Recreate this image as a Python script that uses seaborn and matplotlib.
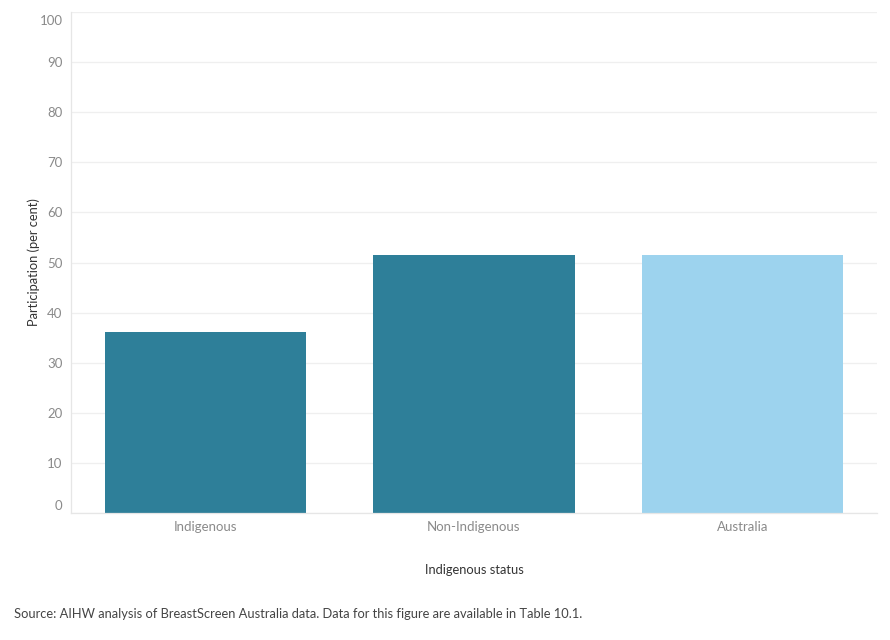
import numpy as np
import pandas as pd
import matplotlib
matplotlib.use("Agg")
from matplotlib import pyplot as plt
from matplotlib import transforms
import seaborn as sns

categories = ["Indigenous", "Non-Indigenous", "Australia"]
participation = [36.2, 51.4, 51.4]
bar_colours = ["#2e7f99", "#2e7f99", "#9dd3ee"]
y_ticks = [0, 10, 20, 30, 40, 50, 60, 70, 80, 90, 100]

sns.set_theme(style="white")
plt.rcParams["font.family"] = ["Lato", "DejaVu Sans"]

df = pd.DataFrame({"status": categories, "value": participation})

fig = plt.figure(figsize=(8.9, 6.4), dpi=100)
ax = fig.add_axes([71 / 890, 1 - 513 / 640, (877 - 71) / 890, (513 - 12) / 640])

sns.barplot(data=df, x="status", y="value", hue="status", palette=bar_colours,
            width=0.75, saturation=1, legend=False, linewidth=0, ax=ax)

ax.set_ylim(0, 100)
ax.set_xlim(-0.5, 2.5)
ax.set_yticks(y_ticks)
ax.set_yticklabels([str(t) for t in y_ticks])
ax.yaxis.grid(True, color="#efefef", linewidth=0.9)
ax.set_axisbelow(True)

for side in ["top", "right"]:
    ax.spines[side].set_visible(False)
for side in ["left", "bottom"]:
    ax.spines[side].set_color("#e6e6e6")
    ax.spines[side].set_linewidth(0.9)

ax.tick_params(axis="y", length=5, color="#e6e6e6", labelsize=9.5,
               labelcolor="#8a8a8a", pad=1)
ax.tick_params(axis="x", length=0, labelsize=9.5, labelcolor="#8a8a8a", pad=6)

# Tableau-style nudge of the end labels inside the axis
labels = ax.get_yticklabels()
labels[0].set_transform(labels[0].get_transform() +
                        transforms.ScaledTranslation(0, 8 / 100, fig.dpi_scale_trans))
labels[-1].set_transform(labels[-1].get_transform() +
                         transforms.ScaledTranslation(0, -8 / 100, fig.dpi_scale_trans))

ax.set_ylabel("Participation (per cent)", fontsize=9.3, color="#333333", labelpad=0)
ax.set_xlabel("Indigenous status", fontsize=9.3, color="#333333", labelpad=22)

fig.text(14 / 890, 1 - 614 / 640,
         "Source: AIHW analysis of BreastScreen Australia data. Data for this figure are available in Table 10.1.",
         fontsize=9.3, color="#444444", va="center", ha="left")

plt.savefig("out.png", dpi=100)
